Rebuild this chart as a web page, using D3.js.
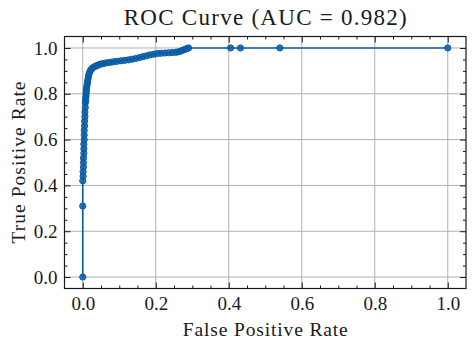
<!DOCTYPE html>
<html><head><meta charset="utf-8">
<script src="https://cdn.jsdelivr.net/npm/d3@7"></script>
<style>html,body{margin:0;padding:0;background:#fff;}svg{display:block;}</style>
</head><body>
<svg id="chart" width="474" height="347"></svg>
<script>
const fpr = [0,0,0,0.001,0.001,0.002,0.002,0.002,0.003,0.003,0.003,0.004,0.004,0.004,0.005,0.005,0.006,0.006,0.007,0.007,0.008,0.008,0.009,0.009,0.010,0.010,0.011,0.012,0.013,0.014,0.015,0.016,0.018,0.020,0.022,0.025,0.028,0.032,0.036,0.040,0.045,0.050,0.056,0.062,0.070,0.078,0.086,0.095,0.105,0.115,0.125,0.135,0.145,0.155,0.165,0.175,0.185,0.195,0.205,0.215,0.225,0.235,0.245,0.255,0.262,0.268,0.274,0.280,0.285,0.290,0.405,0.432,0.540,1.0];
const tpr = [0,0.31,0.42,0.44,0.46,0.48,0.50,0.52,0.54,0.56,0.58,0.60,0.62,0.64,0.66,0.68,0.70,0.72,0.74,0.76,0.77,0.78,0.79,0.80,0.81,0.82,0.83,0.84,0.85,0.86,0.87,0.88,0.89,0.898,0.904,0.91,0.914,0.918,0.921,0.924,0.927,0.930,0.932,0.934,0.936,0.938,0.940,0.942,0.944,0.946,0.948,0.951,0.954,0.958,0.962,0.966,0.970,0.973,0.976,0.977,0.978,0.979,0.980,0.981,0.983,0.986,0.990,0.994,0.997,1.0,1.0,1.0,1.0,1.0];
const majorTicks = [0.0,0.2,0.4,0.6,0.8,1.0];
const minorTicks = [0.05,0.1,0.15,0.25,0.3,0.35,0.45,0.5,0.55,0.65,0.7,0.75,0.85,0.9,0.95];
const titleText = "ROC Curve (AUC = 0.982)";
const xLabel = "False Positive Rate";
const yLabel = "True Positive Rate";

const svg = d3.select("#chart");
const L = 64.5, R = 466, T = 36.5, B = 288.5;
const x = d3.scaleLinear().domain([-0.05,1.05]).range([L,R]);
const y = d3.scaleLinear().domain([-0.05,1.05]).range([B,T]);
const color = "#0C5DA5";
const font = "'Liberation Serif', 'DejaVu Serif', serif";
const ink = "#1a1a1a";

// grid
const g = svg.append("g");
g.selectAll(".gx").data(majorTicks).join("line")
  .attr("x1", d=>x(d)).attr("x2", d=>x(d)).attr("y1", T).attr("y2", B)
  .attr("stroke", "#b0b0b0").attr("stroke-width", 1);
g.selectAll(".gy").data(majorTicks).join("line")
  .attr("y1", d=>y(d)).attr("y2", d=>y(d)).attr("x1", L).attr("x2", R)
  .attr("stroke", "#b0b0b0").attr("stroke-width", 1);

// curve
svg.append("defs").append("clipPath").attr("id","clip")
  .append("rect").attr("x",L).attr("y",T).attr("width",R-L).attr("height",B-T);
const pts = fpr.map((v,i)=>[v,tpr[i]]);
const line = d3.line().x(d=>x(d[0])).y(d=>y(d[1]));
const pg = svg.append("g").attr("clip-path","url(#clip)");
pg.append("path").datum(pts).attr("d", line).attr("fill","none")
  .attr("stroke", color).attr("stroke-width", 1.6);
pg.selectAll("circle").data(pts).join("circle")
  .attr("cx", d=>x(d[0])).attr("cy", d=>y(d[1])).attr("r", 3.1)
  .attr("fill", color).attr("fill-opacity", 0.85).attr("stroke", color).attr("stroke-width", 1);

// axes with inward ticks
const ax = svg.append("g");
const fmt = d3.format(".1f");
function addAxis(axisFn, scale, tx, ty, vals, len, withLabels, pad){
  const a = axisFn(scale).tickValues(vals).tickSizeInner(-len).tickSizeOuter(0)
    .tickFormat(withLabels ? fmt : "").tickPadding(pad||3);
  ax.append("g").attr("transform",`translate(${tx},${ty})`).call(a);
}
addAxis(d3.axisBottom, x, 0, B, majorTicks, 6, true, 8.5);
addAxis(d3.axisBottom, x, 0, B, minorTicks, 3, false);
addAxis(d3.axisTop, x, 0, T, majorTicks, 6, false);
addAxis(d3.axisTop, x, 0, T, minorTicks, 3, false);
addAxis(d3.axisLeft, y, L, 0, majorTicks, 6, true, 7);
addAxis(d3.axisLeft, y, L, 0, minorTicks, 3, false);
addAxis(d3.axisRight, y, R, 0, majorTicks, 6, false);
addAxis(d3.axisRight, y, R, 0, minorTicks, 3, false);
ax.selectAll(".domain").remove();
ax.selectAll("line").attr("stroke",ink).attr("stroke-width",1);
ax.selectAll("text").attr("font-family", font).attr("font-size", 19).attr("fill",ink);

svg.append("rect").attr("x",L).attr("y",T).attr("width",R-L).attr("height",B-T)
  .attr("fill","none").attr("stroke",ink).attr("stroke-width",1.2);

svg.append("text").attr("x", (L+R)/2).attr("y", 25).attr("text-anchor","middle")
  .attr("font-family", font).attr("font-size", 23).attr("fill",ink)
  .attr("textLength", 283).attr("lengthAdjust","spacing").text(titleText);
svg.append("text").attr("x", (L+R)/2).attr("y", 336).attr("text-anchor","middle")
  .attr("font-family", font).attr("font-size", 19.5).attr("fill",ink)
  .attr("textLength", 165).attr("lengthAdjust","spacing").text(xLabel);
svg.append("text").attr("transform", `translate(25,${(T+B)/2}) rotate(-90)`).attr("text-anchor","middle")
  .attr("font-family", font).attr("font-size", 19.5).attr("fill",ink)
  .attr("textLength", 162).attr("lengthAdjust","spacing").text(yLabel);
</script>
</body></html>
